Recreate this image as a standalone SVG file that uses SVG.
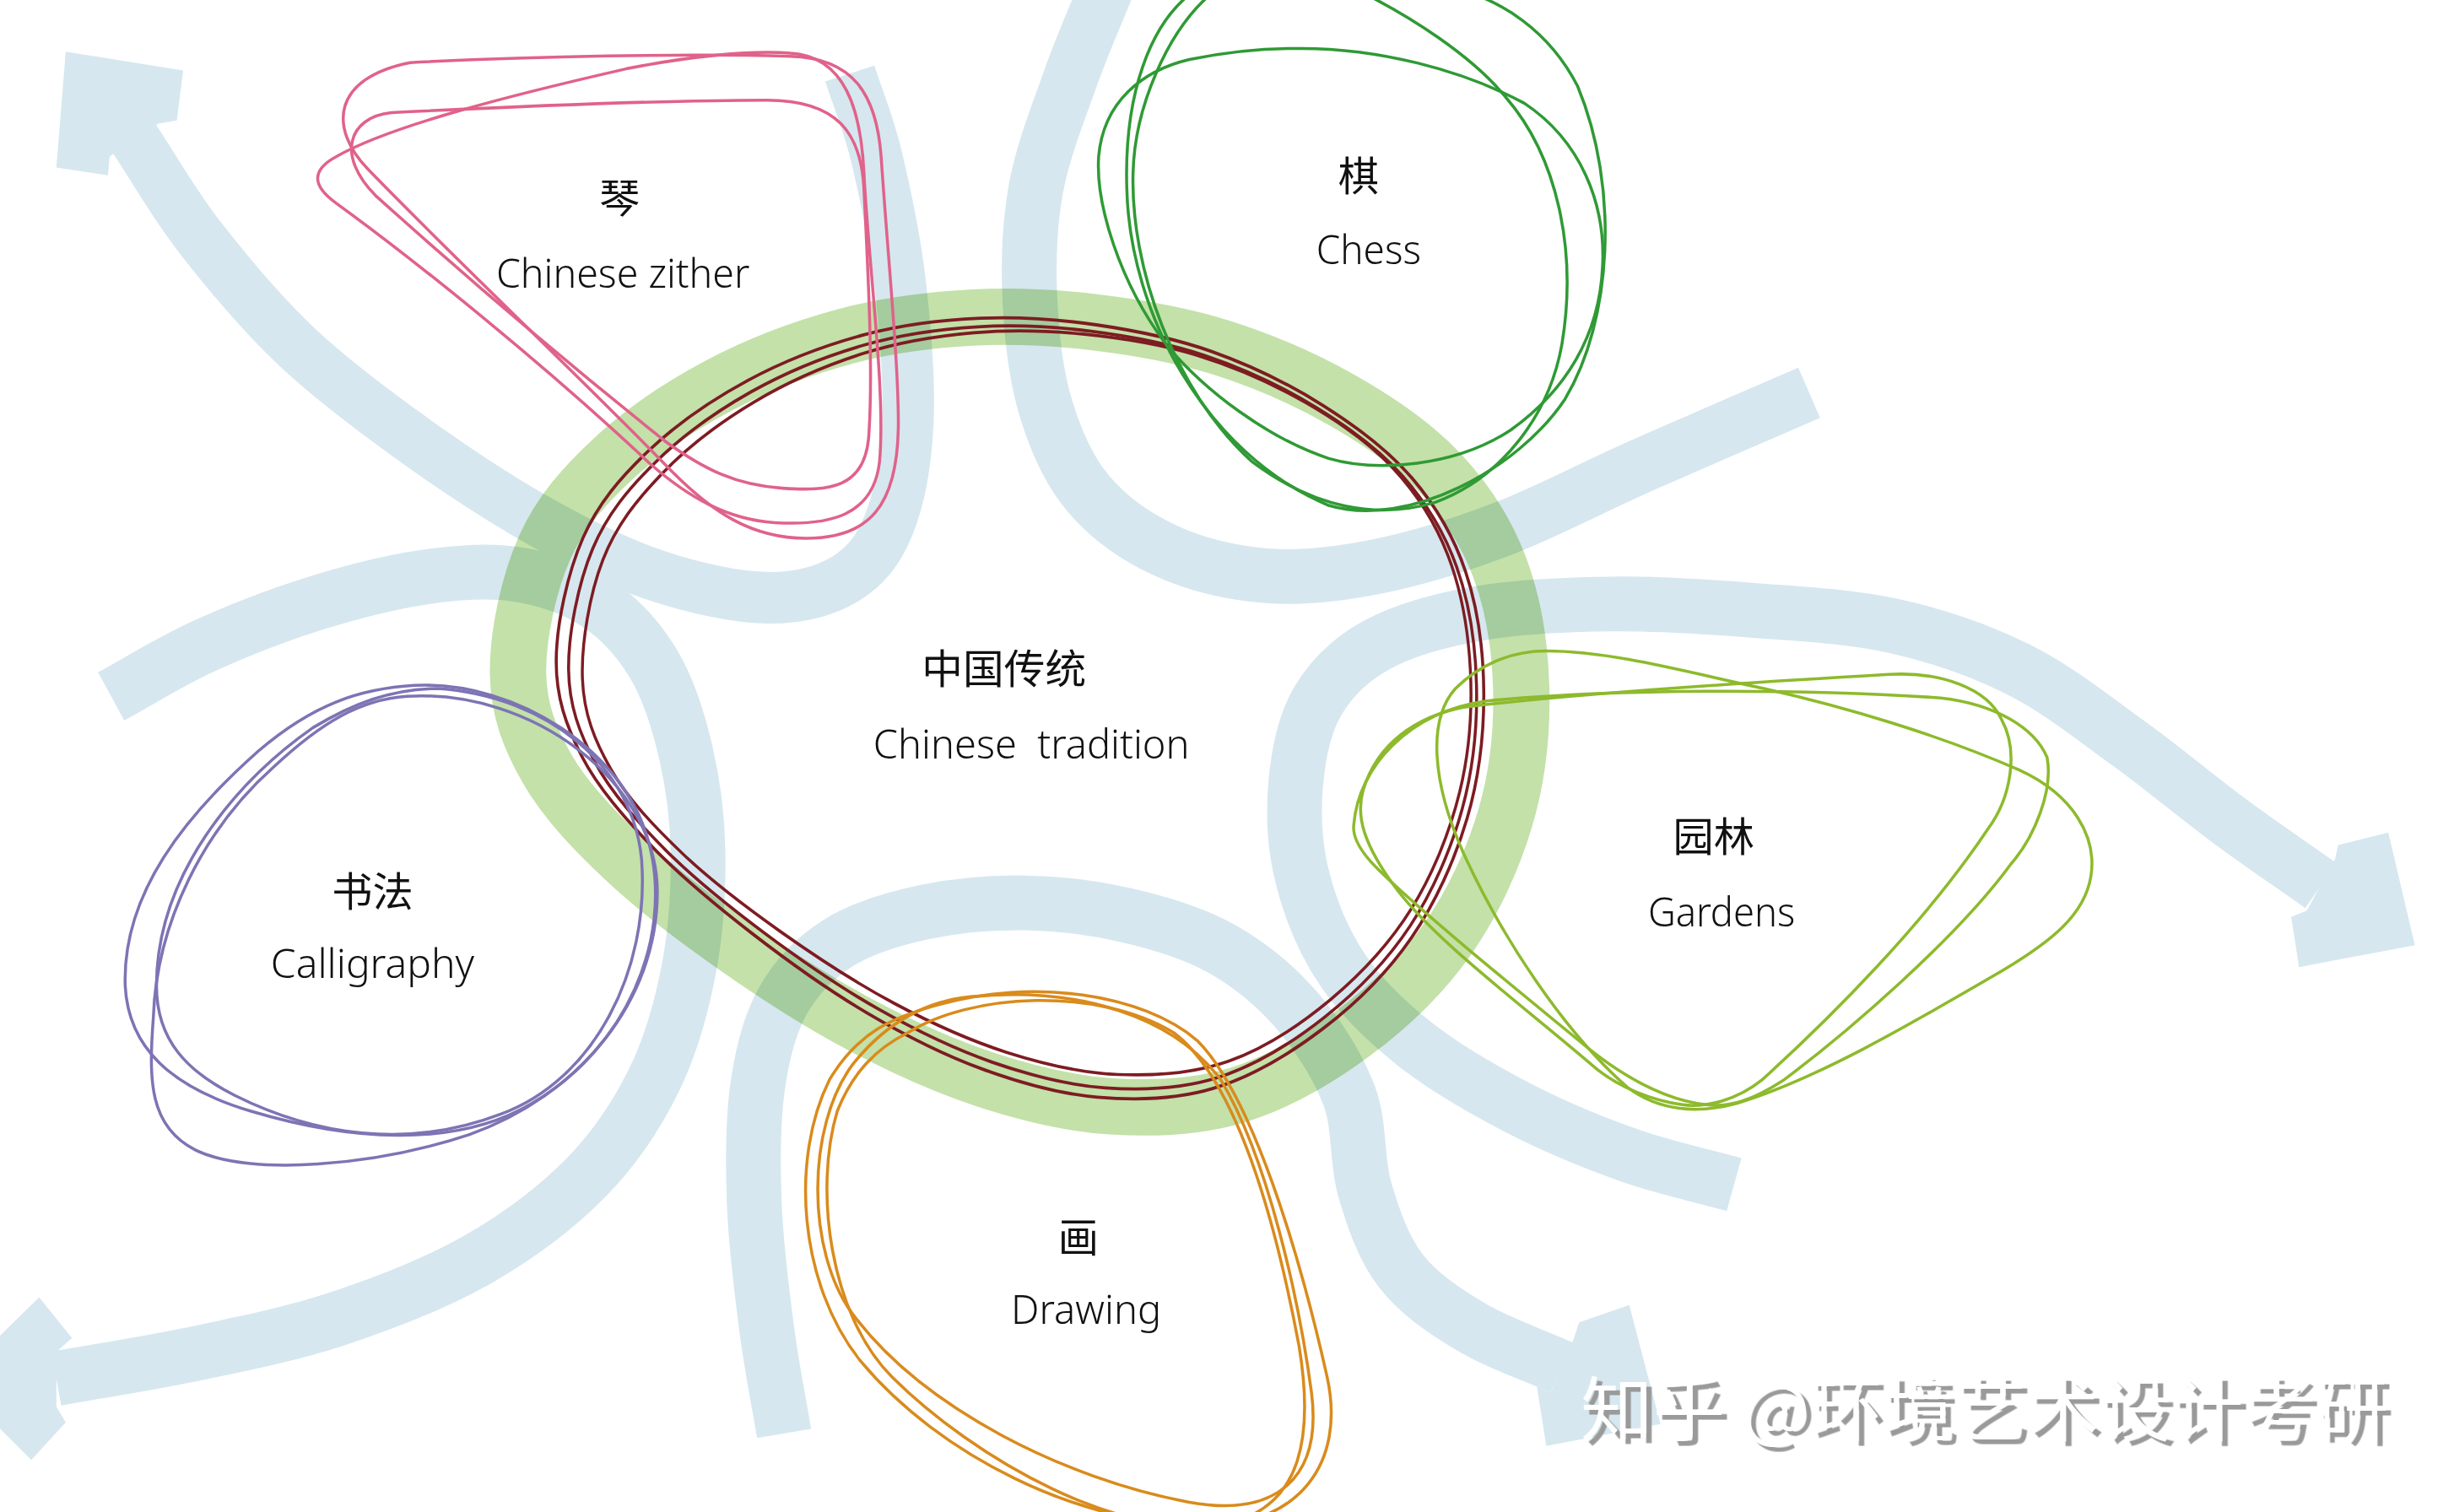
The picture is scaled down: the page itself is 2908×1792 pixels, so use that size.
<svg xmlns="http://www.w3.org/2000/svg" xmlns:xlink="http://www.w3.org/1999/xlink" width="2908" height="1792" viewBox="0 0 2908 1792">
<style>
.band{fill:none;stroke:#d6e7ef;stroke-width:35;stroke-linecap:butt;stroke-linejoin:round}
.head{fill:#d6e7ef}
.ring{fill:none;stroke:#c3e1a9;stroke-width:36;mix-blend-mode:multiply}
.loop{fill:none;stroke-width:1.9;stroke-linejoin:round}
.maroon{fill:none;stroke:#7d1c22;stroke-width:2.1}
.pink{stroke:#e0628a}
.chess{stroke:#2f9a35}
.purple{stroke:#7d74b4}
.orange{stroke:#d98b1c}
.garden{stroke:#8dba2c}
.cn{font-family:"Noto Sans CJK SC","Noto Sans",sans-serif;font-size:26px;fill:#111}
.en{font-family:"Noto Sans","Noto Sans CJK SC",sans-serif;font-size:26px;font-weight:300;fill:#111}
.wm{font-family:"Noto Sans CJK SC",sans-serif;font-size:45px;fill:#ffffff}
</style>
<defs>
<path id="ringShape" d="M331,430 C330.7,406.3 337.8,372.8 348,350 S373.3,310.3 392,293 S435.3,259 460,246 S513.3,222.2 540,215 S593.3,204.5 620,203 S673.3,202.8 700,206 S753.7,213.7 780,222 S834.7,242.7 858,256 S903.3,284.3 920,302 S949.3,339 958,362 S971.3,413.3 972,440 S969.8,495.3 962,522 S941.2,577 925,600 S887.5,643.3 865,660 S815.8,692.2 790,700 S736.7,708.7 710,707 S656.7,698.7 630,690 S576.7,669.2 550,655 S495,622.5 470,605 S420,568.8 400,550 S361.5,512 350,492 S331.3,453.7 331,430 Z"/>
<filter id="emboss" x="-5%" y="-20%" width="110%" height="140%">
<feDropShadow dx="3.5" dy="3" stdDeviation="0.4" flood-color="#9a9a9a" flood-opacity="1"/>
</filter>
</defs>
<rect width="2908" height="1792" fill="#ffffff"/>
<g transform="scale(1.854592)">
<g id="connectors">
<path class="band" style="stroke-width:33" d="M86,89 C100,110 110.7,129.8 128,152 S166.3,199.8 190,222 S243.3,266 270,285 S325,322.2 350,336 S396.7,360.3 420,368 S470,381.7 490,382 S527,377.8 540,370 S561.3,351.7 568,335 S578.8,295.8 580,270 S578.3,208.3 575,180 S565.3,122.2 560,100 S548.7,64.7 543,47"/>
<polygon class="head" points="42,33 117,45 113,77 101,79 70,100 69,112 36,107"/>
<path class="band" d="M708,-10 C700,10 691.7,28.3 684,50 S666.3,96.7 662,120 S657,166.7 658,190 S661.8,239.2 668,260 S682.2,299.7 695,315 S725.8,343.2 745,352 S787.5,366.3 810,368 S855,367 880,362 S931.7,348.8 960,338 S1017.3,311.5 1050,297 S1120.7,266.3 1156,251"/>
<path class="band" d="M71,445 C90.7,434.3 108.5,422.8 130,413 S176.7,393.3 200,386 S248.3,372.2 270,369 S311.3,364.2 330,367 S367.3,376.3 382,386 S408.7,409.3 418,425 S433.3,460 438,480 S445.7,521.7 446,545 S444.7,595.8 440,620 S428.8,668 418,690 S393.8,732.8 375,752 S331.7,789.8 305,805 S245.8,832.8 215,843 S149.8,859.8 120,866 S64,876 36,881"/>
<polygon class="head" points="25,829 46,855 36,864 36,899 42,909 20,933 -30,883"/>
<path class="band" d="M501,916 C497.3,894 493.2,874.3 490,850 S483,795.8 482,770 S481,716.7 484,695 S491.5,655.3 500,640 S520,612.5 535,603 S570,587.3 590,583 S633.3,576.7 655,577 S699.2,580.2 720,585 S762,596 780,606 S814.3,629.3 828,645 S854.7,680.8 862,700 S866.5,741.3 872,760 S883.7,797.3 895,812 S922.8,837.7 940,848 S978.7,865.3 998,874"/>
<polygon class="head" points="1005,857 1009,845 1041,834 1061,910 988,924 982,886 991,890"/>
<path class="band" d="M1108,757 C1085.3,750.7 1063,746.2 1040,738 S992.5,719.7 970,708 S923.7,682.7 905,668 S870.2,638 858,620 S837,580 832,560 S826.3,518.7 828,500 S833.3,462.7 842,448 S862.8,421.3 880,412 S920,396.3 945,392 S1000.8,386.3 1030,386 S1090,387.7 1120,390 S1181.7,393.7 1210,400 S1265,415.5 1290,428 S1337.5,458.8 1360,475 S1404.5,509.8 1425,525 S1463.7,552.3 1483,566"/>
<polygon class="head" points="1492,549 1494,540 1526,532 1543,604 1469,618 1464,586 1474,582"/>
</g>
<g id="node-center">
<use href="#ringShape" xlink:href="#ringShape" class="ring"/>
<use href="#ringShape" xlink:href="#ringShape" class="maroon" transform="translate(650 452) rotate(1) scale(0.925 0.985) translate(-650 -455)"/>
<use href="#ringShape" xlink:href="#ringShape" class="maroon" transform="translate(652 452) scale(0.905 0.965) translate(-650 -455)"/>
<use href="#ringShape" xlink:href="#ringShape" class="maroon" transform="translate(655 450) rotate(-1.5) scale(0.885 0.945) translate(-650 -455)"/>
<text class="cn" x="589" y="437" textLength="105" lengthAdjust="spacingAndGlyphs">中国传统</text>
<text class="en" x="558" y="485" textLength="202" lengthAdjust="spacingAndGlyphs" xml:space="preserve">Chinese  tradition</text>
</g>
<g id="node-qin">
<path class="loop pink" d="M262,40 C340,36 440,34 505,36 C545,37 560,60 563,100 C567,160 574,230 574,270 C574,324 555,344 515,344 C480,344 455,327 430,302 C370,240 290,165 235,108 C210,82 212,50 262,40 Z"/>
<path class="loop pink" d="M215,100 C250,80 330,60 400,44 C440,36 480,32 505,34 C540,36 550,70 552,110 C555,170 566,250 562,295 C558,330 530,336 495,334 C465,332 440,318 415,296 C350,235 270,170 215,130 C198,118 200,108 215,100 Z"/>
<path class="loop pink" d="M250,72 C330,68 420,64 490,64 C535,64 550,85 552,120 C555,180 558,240 555,280 C552,312 530,314 500,312 C470,310 450,300 425,282 C360,230 290,170 240,125 C215,100 222,75 250,72 Z"/>
<text class="cn" x="396" y="136" text-anchor="middle">琴</text>
<text class="en" x="317" y="184" textLength="162" lengthAdjust="spacingAndGlyphs">Chinese zither</text>
</g>
<g id="node-qi">
<path class="loop chess" d="M762,-5 C735,15 718,60 720,121 C722,200 770,290 849,323 C900,338 970,300 1000,255 C1030,205 1035,120 1008,55 C990,20 960,0 928,-8 C870,-20 800,-22 762,-5 Z"/>
<path class="loop chess" d="M775,-5 C745,20 725,70 724,110 C722,170 750,250 800,295 C840,325 880,332 917,321 C960,305 990,265 998,220 C1008,160 995,100 962,62 C940,35 900,10 870,-5 C830,-15 795,-15 775,-5 Z"/>
<path class="loop chess" d="M826,31 C880,30 935,45 974,66 C1010,90 1026,130 1024,170 C1022,215 1000,250 965,275 C930,298 880,302 849,293 C810,280 770,250 745,220 C715,180 700,130 702,100 C705,65 730,45 760,38 C785,33 805,31 826,31 Z"/>
<text class="cn" x="868" y="122" text-anchor="middle">棋</text>
<text class="en" x="841" y="169" textLength="67" lengthAdjust="spacingAndGlyphs">Chess</text>
</g>
<g id="node-shufa">
<path class="loop purple" d="M265,438 C330,435 400,480 415,540 C430,600 400,670 340,705 C290,735 220,728 160,710 C110,695 82,670 80,630 C78,570 120,520 165,480 C200,450 230,440 265,438 Z"/>
<path class="loop purple" d="M260,445 C340,440 420,500 420,570 C420,640 370,700 300,725 C240,745 160,752 125,735 C95,720 95,690 98,650 C100,590 130,530 175,490 C205,462 230,447 260,445 Z"/>
<path class="loop purple" d="M280,440 C350,445 405,490 410,550 C415,620 380,690 320,712 C260,735 200,725 150,700 C120,685 100,665 100,630 C100,560 150,500 200,465 C225,450 250,440 280,440 Z"/>
<text class="cn" x="212" y="579" textLength="52" lengthAdjust="spacingAndGlyphs">书法</text>
<text class="en" x="173" y="625" textLength="130" lengthAdjust="spacingAndGlyphs">Calligraphy</text>
</g>
<g id="node-hua">
<path class="loop orange" d="M600,642 C660,625 730,635 765,665 C800,700 830,800 848,880 C860,935 830,975 770,975 C690,975 600,930 550,870 C510,820 505,740 530,690 C548,660 570,650 600,642 Z"/>
<path class="loop orange" d="M620,637 C690,630 750,650 780,690 C810,740 830,830 838,890 C845,945 815,970 760,960 C680,945 590,900 545,840 C515,800 515,720 545,680 C565,655 590,640 620,637 Z"/>
<path class="loop orange" d="M580,660 C620,635 700,630 750,660 C790,690 815,780 830,860 C840,920 830,960 790,972 C720,990 620,930 570,880 C530,840 520,760 535,710 C545,685 560,670 580,660 Z"/>
<text class="cn" x="689" y="800" text-anchor="middle">画</text>
<text class="en" x="646" y="846" textLength="96" lengthAdjust="spacingAndGlyphs">Drawing</text>
</g>
<g id="node-yuanlin">
<path class="loop garden" d="M988,416 C1030,416 1080,430 1127,440 C1180,452 1240,470 1290,492 C1325,508 1340,535 1336,560 C1332,585 1310,602 1280,620 C1220,655 1160,690 1110,705 C1085,712 1060,710 1040,695 C1000,660 960,600 935,545 C915,500 912,460 930,440 C945,425 965,416 988,416 Z"/>
<path class="loop garden" d="M871,505 C880,475 905,458 935,452 C1000,444 1120,436 1207,431 C1240,429 1270,440 1279,460 C1290,480 1285,510 1270,530 C1230,590 1170,650 1126,690 C1110,703 1090,708 1075,706 C1055,703 1035,695 1020,683 C970,640 915,600 890,565 C872,540 866,522 871,505 Z"/>
<path class="loop garden" d="M865,527 C868,490 900,455 950,448 C1030,440 1150,440 1240,446 C1275,450 1300,465 1308,484 C1312,505 1300,535 1285,552 C1250,600 1180,660 1140,690 C1120,703 1105,708 1090,706 C1065,703 1040,690 1015,670 C960,625 905,580 880,555 C870,545 864,535 865,527 Z"/>
<text class="cn" x="1069" y="544" textLength="52" lengthAdjust="spacingAndGlyphs">园林</text>
<text class="en" x="1053" y="592" textLength="94" lengthAdjust="spacingAndGlyphs">Gardens</text>
</g>
<g id="watermark">
<text class="wm" x="1010" y="917" textLength="516" lengthAdjust="spacingAndGlyphs" filter="url(#emboss)">知乎 @环境艺术设计考研</text>
</g>
</g>
</svg>
